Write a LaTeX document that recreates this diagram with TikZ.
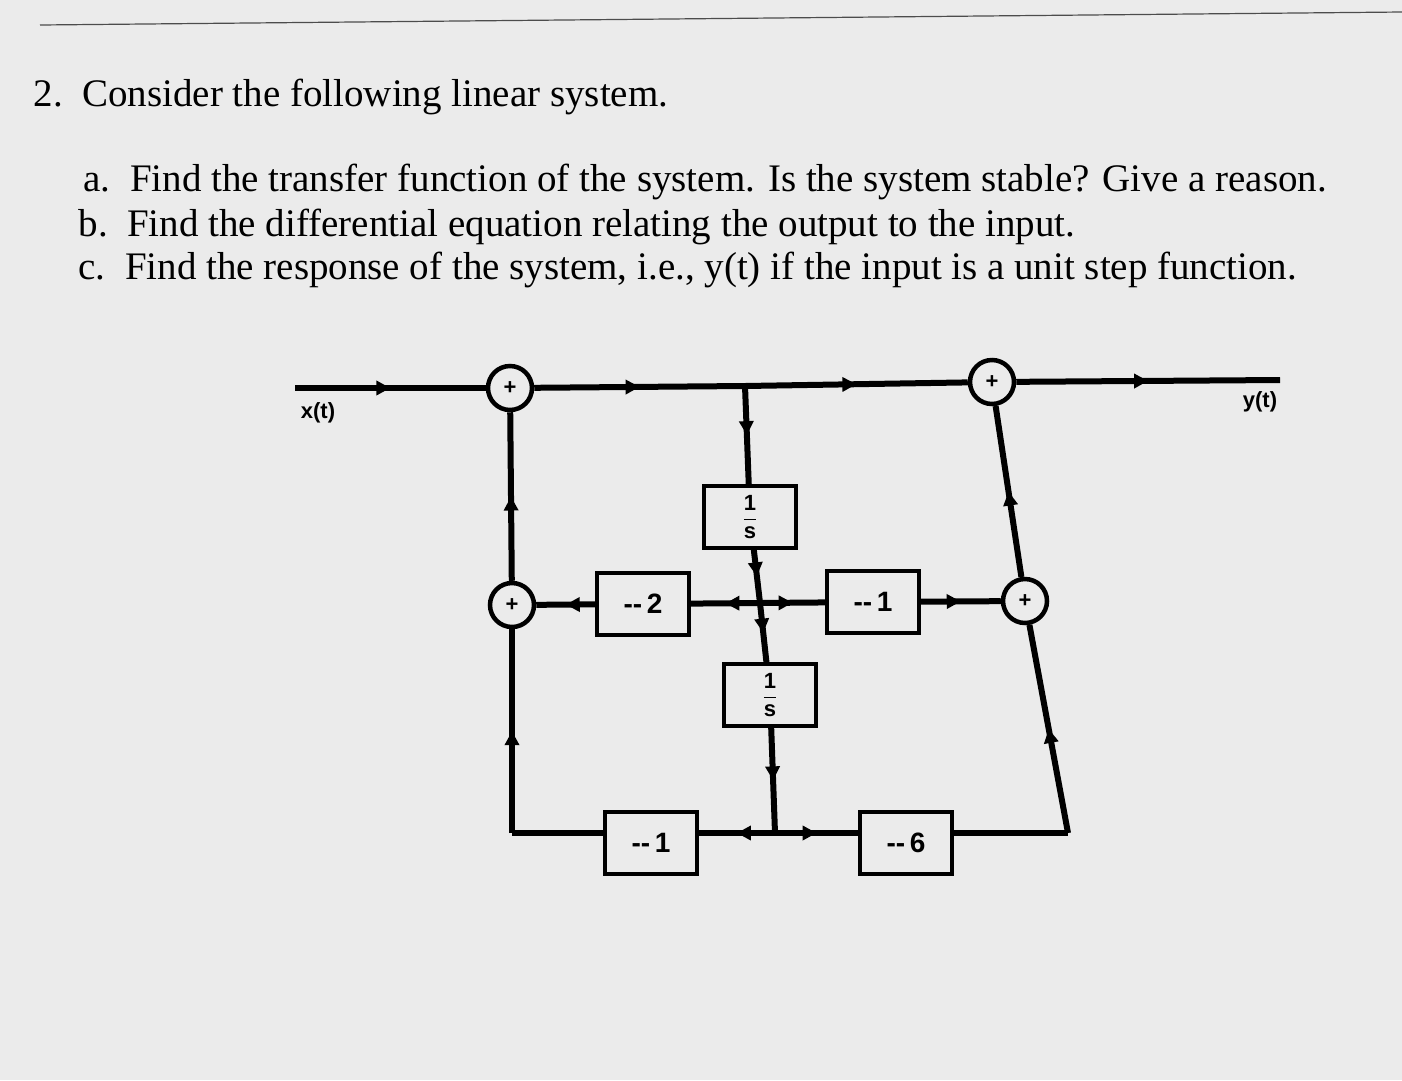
\documentclass[tikz,border=0pt]{standalone}
\usepackage{fontspec}
\setmainfont{Liberation Serif}
\newfontfamily\dsans{Liberation Sans}
\usetikzlibrary{arrows.meta,decorations.markings}
\newcommand{\ovs}{$\displaystyle\frac{\mbox{1}}{\mbox{s}}$}
\begin{document}
\begin{tikzpicture}[x=1pt,y=-1pt,
  sig/.style={line width=6pt},
  mid/.style={sig,postaction={decorate},decoration={markings,mark=at position 0.5 with {\arrow{Triangle[length=14pt,width=14pt]}}}},
  sumc/.style={circle,draw,line width=4.5pt,minimum size=44pt,inner sep=0pt,font=\dsans\bfseries\fontsize{22}{22}\selectfont},
  gain/.style={draw,line width=3.5pt,fill=black!8,minimum width=92pt,minimum height=62pt,inner sep=0pt,font=\dsans\bfseries\fontsize{28}{28}\selectfont},
  frac/.style={gain,font=\dsans\bfseries\fontsize{22}{22}\selectfont},
  txt/.style={anchor=west,font=\fontsize{39}{44}\selectfont}]
\useasboundingbox[fill=black!8] (0,0) rectangle (1402,1080);
\draw[line width=1.2pt,black!70] (40,25) -- (1402,12);
\node[txt] (q) at (30,97) {2.\ \ Consider the following linear system.};
\node[txt] (qa) at (80,182) {a.\ \ Find the transfer function of the system. Is the system stable? Give a reason.};
\node[txt] (qb) at (75,227) {b.\ \ Find the differential equation relating the output to the input.};
\node[txt] (qc) at (75,270) {c.\ \ Find the response of the system, i.e., y(t) if the input is a unit step function.};

\coordinate (xin) at (295,388);
\coordinate (yout) at (1280,380);
\coordinate (t1) at (745,386);
\coordinate (j1) at (760,603);
\coordinate (j2) at (775,833);
\coordinate (bl) at (512,833);
\coordinate (br) at (1068,833);
\node[sumc] (s1) at (510,388) {+};
\node[sumc] (s2) at (992,382) {+};
\node[sumc] (s3) at (512,605) {+};
\node[sumc] (s4) at (1025,601) {+};
\node[frac] (i1) at (750,517) {\ovs};
\node[frac] (i2) at (770,695) {\ovs};
\node[gain] (g2) at (643,604) {--\,2};
\node[gain] (g1) at (873,602) {--\,1};
\node[gain] (g3) at (651,843) {--\,1};
\node[gain] (g6) at (906,843) {--\,6};
\node[font=\dsans\bfseries\fontsize{22}{22}\selectfont] (xl) at (318,413) {x(t)};
\node[font=\dsans\bfseries\fontsize{22}{22}\selectfont] (yl) at (1260,402) {y(t)};

\draw[mid] (xin) -- (s1);
\draw[mid] (s1) -- (t1);
\draw[mid] (t1) -- (s2);
\draw[mid] (s2) -- (yout);
\draw[mid] (t1) -- (i1);
\draw[mid] (i1) -- (j1);
\draw[mid] (j1) -- (i2);
\draw[mid] (i2) -- (j2);
\draw[mid] (j1) -- (g2);
\draw[mid] (g2) -- (s3);
\draw[mid] (j1) -- (g1);
\draw[mid] (g1) -- (s4);
\draw[mid] (s3) -- (s1);
\draw[mid] (j2) -- (j2 -| g3.east);
\draw[sig] (g3.west |- bl) -- (bl);
\draw[mid] (bl) -- (s3);
\draw[mid] (j2) -- (j2 -| g6.west);
\draw[sig] (g6.east |- br) -- (br);
\draw[mid] (br) -- (s4);
\draw[mid] (s4) -- (s2);
\node[gain] at (g3) {--\,1};
\node[gain] at (g6) {--\,6};
\end{tikzpicture}
\end{document}
